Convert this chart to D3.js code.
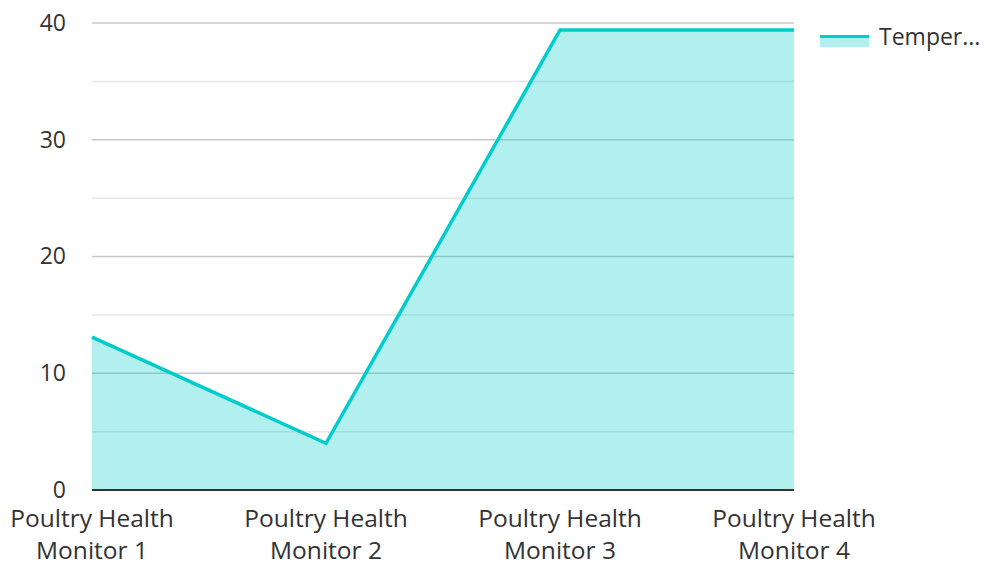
<!DOCTYPE html>
<html lang="en">
<head>
<meta charset="utf-8">
<title>Poultry Health Temperature</title>
<script src="https://cdnjs.cloudflare.com/ajax/libs/d3/7.8.5/d3.min.js"></script>
<style>
	body { margin: 0; background: #fff; }
	svg text { font-family: "Open Sans", sans-serif; fill: #333; }
</style>
</head>
<body>
<svg id="chart" width="984" height="562"></svg>
<script>
// data
var categories = ["Poultry Health Monitor 1", "Poultry Health Monitor 2", "Poultry Health Monitor 3", "Poultry Health Monitor 4"];
var temperature = [13.1, 4.0, 39.4, 39.4];
var seriesName = "Temperature";
var yTicks = [0, 10, 20, 30, 40];
var yMinorTicks = [5, 15, 25, 35];

var svg = d3.select("#chart");
var plotLeft = 92, plotRight = 794, plotTop = 23, plotBottom = 490;

var x = d3.scalePoint().domain(categories).range([plotLeft, plotRight]);
var y = d3.scaleLinear().domain([0, 40]).range([plotBottom, plotTop]);

// grid
svg.append("g").selectAll("line").data(yMinorTicks).join("line")
	.attr("x1", plotLeft).attr("x2", plotRight)
	.attr("y1", function(d) { return y(d); }).attr("y2", function(d) { return y(d); })
	.attr("stroke", "#e6e6e6").attr("stroke-width", 1.5);
svg.append("g").selectAll("line").data(yTicks.slice(1)).join("line")
	.attr("x1", plotLeft).attr("x2", plotRight)
	.attr("y1", function(d) { return y(d); }).attr("y2", function(d) { return y(d); })
	.attr("stroke", "#c8c8c8").attr("stroke-width", 1.5);

// area + line
var area = d3.area()
	.x(function(d, i) { return x(categories[i]); })
	.y0(y(0))
	.y1(function(d) { return y(d); });
var line = d3.line()
	.x(function(d, i) { return x(categories[i]); })
	.y(function(d) { return y(d); });

svg.append("path").datum(temperature)
	.attr("d", area)
	.attr("fill", "#00cccc").attr("fill-opacity", 0.3);
svg.append("path").datum(temperature)
	.attr("d", line)
	.attr("fill", "none").attr("stroke", "#00cccc").attr("stroke-width", 3.5);

// y axis labels
var yAxis = d3.axisLeft(y).tickValues(yTicks).tickSize(0).tickPadding(26);
svg.append("g").attr("transform", "translate(" + plotLeft + ",0)").call(yAxis)
	.call(function(g) { g.select(".domain").remove(); })
	.selectAll("text").attr("font-size", 23).attr("font-family", "Open Sans").attr("fill", "#333");

// baseline
svg.append("line")
	.attr("x1", plotLeft).attr("x2", plotRight).attr("y1", plotBottom).attr("y2", plotBottom)
	.attr("stroke", "#333").attr("stroke-width", 2);

// x labels, wrapped on two lines
var xl = svg.append("g").selectAll("text").data(categories).join("text")
	.attr("x", function(d) { return x(d); })
	.attr("y", 527)
	.attr("text-anchor", "middle")
	.attr("font-size", 24.5);
xl.append("tspan").attr("x", function(d) { return x(d); })
	.text(function(d) { return d.split(" Monitor")[0]; });
xl.append("tspan").attr("x", function(d) { return x(d); }).attr("dy", 32)
	.text(function(d) { return "Monitor" + d.split(" Monitor")[1]; });

// legend
var lg = svg.append("g").attr("transform", "translate(820,35)");
lg.append("rect").attr("x", 0).attr("y", 0).attr("width", 49).attr("height", 12)
	.attr("fill", "#00cccc").attr("fill-opacity", 0.3);
lg.append("line").attr("x1", 0).attr("x2", 49).attr("y1", 1.5).attr("y2", 1.5)
	.attr("stroke", "#00cccc").attr("stroke-width", 3);
lg.append("text").attr("x", 59).attr("y", 10).attr("font-size", 23)
	.text(seriesName.slice(0, 6) + "...");
</script>
</body>
</html>
